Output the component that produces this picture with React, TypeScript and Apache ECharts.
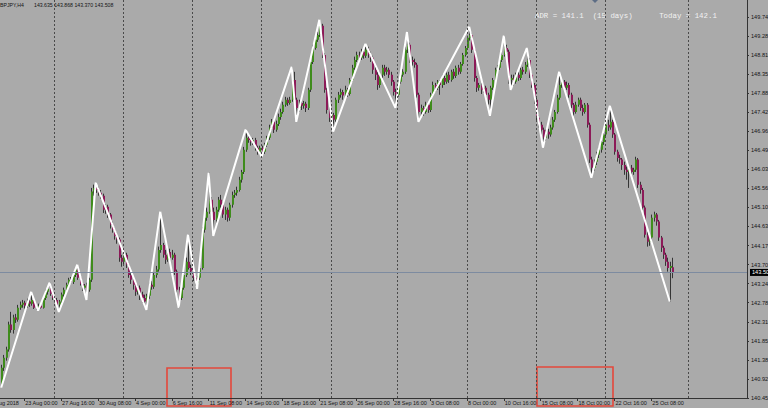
import React, { useEffect, useRef } from 'react';
import * as echarts from 'echarts';

// ---------- chart data ----------
const symbolInfo = 'GBPJPY,H4';
const lastQuote = ['143.635', '143.868', '143.370', '143.508'];
const bidPrice = 143.508;
const adrText = 'ADR = 141.1  (15 days)      Today = 142.1';
const firstDateLabel = '21 Aug 2018';

const xTickLabels = [
  '23 Aug 00:00', '27 Aug 16:00', '30 Aug 08:00', '4 Sep 00:00', '6 Sep 16:00', '11 Sep 08:00',
  '14 Sep 00:00', '18 Sep 16:00', '21 Sep 08:00', '26 Sep 00:00', '28 Sep 16:00', '3 Oct 08:00',
  '8 Oct 00:00', '10 Oct 16:00', '15 Oct 08:00', '18 Oct 00:00', '22 Oct 16:00', '25 Oct 08:00',
];
const yTickLabels = [
  '140.450', '140.920', '141.380', '141.850', '142.310', '142.780', '143.240', '143.700', '144.170',
  '144.630', '145.100', '145.560', '146.030', '146.490', '146.960', '147.420', '147.880', '148.350',
  '148.810', '149.280', '149.740',
];
// bars where the dotted vertical grid lines fall
const gridBars = [23, 53, 83, 113, 143, 172, 202, 232, 262, 298];

// H4 candles, [open, high, low, close]
const candles: number[][] = [
  [140.77,141.26,140.70,141.19],[141.19,141.50,141.11,141.43],[141.43,141.70,141.36,141.63],[141.63,142.31,141.58,142.24],
  [142.24,142.55,142.04,142.11],[142.11,142.48,142.02,142.41],[142.41,142.50,142.28,142.36],[142.36,142.72,142.31,142.65],
  [142.65,142.80,142.60,142.72],[142.72,142.84,142.65,142.77],[142.77,142.82,142.63,142.70],[142.70,142.87,142.65,142.80],
  [142.80,142.84,142.67,142.75],[142.75,143.04,142.70,142.84],[142.84,142.89,142.62,142.65],[142.65,142.70,142.60,142.63],
  [142.63,142.75,142.58,142.70],[142.70,142.75,142.63,142.65],[142.65,142.94,142.63,142.89],[142.89,143.09,142.84,143.04],
  [143.04,143.16,142.97,143.11],[143.11,143.26,142.94,142.99],[142.99,143.04,142.84,142.89],[142.89,142.94,142.77,142.84],
  [142.84,142.89,142.67,142.72],[142.72,142.84,142.55,142.80],[142.80,143.02,142.75,142.97],[142.97,143.14,142.92,143.09],
  [143.09,143.26,143.04,143.21],[143.21,143.38,143.16,143.33],[143.33,143.40,143.23,143.28],[143.28,143.50,143.23,143.45],
  [143.45,143.62,143.40,143.58],[143.58,143.70,143.33,143.38],[143.38,143.43,143.19,143.23],[143.23,143.28,143.06,143.14],
  [143.14,143.23,143.04,143.19],[143.19,143.26,142.84,143.09],[143.09,143.38,143.04,143.33],[143.33,145.57,143.28,145.48],
  [145.48,145.65,145.38,145.57],[145.57,145.70,145.45,145.52],[145.52,145.60,145.38,145.45],[145.45,145.52,145.31,145.38],
  [145.38,145.43,144.96,145.04],[145.04,145.18,144.94,145.11],[145.11,145.16,144.84,144.92],[144.92,144.96,144.58,144.67],
  [144.67,144.75,144.48,144.55],[144.55,144.60,144.31,144.40],[144.40,144.48,144.21,144.31],[144.31,144.36,143.77,143.87],
  [143.87,143.94,143.65,143.77],[143.77,144.01,143.70,143.94],[143.94,143.99,143.62,143.70],[143.70,143.75,143.38,143.45],
  [143.45,143.53,143.23,143.33],[143.33,143.38,143.09,143.21],[143.21,143.26,142.94,143.04],[143.04,143.21,142.97,143.14],
  [143.14,143.19,142.84,142.97],[142.97,143.04,142.77,142.89],[142.89,142.97,142.67,142.80],[142.80,142.99,142.60,142.94],
  [142.94,143.26,142.87,143.21],[143.21,143.30,143.09,143.16],[143.16,143.50,143.11,143.45],[143.45,143.67,143.38,143.58],
  [143.58,144.14,143.53,144.06],[144.06,144.99,143.99,144.18],[144.18,144.23,143.87,143.94],[143.94,144.06,143.72,143.82],
  [143.82,144.11,143.77,144.01],[144.01,144.09,143.80,143.87],[143.87,144.06,143.82,143.94],[143.94,143.99,143.45,143.53],
  [143.53,143.58,143.02,143.09],[143.09,143.16,142.65,142.89],[142.89,143.21,142.84,143.14],[143.14,143.53,143.09,143.45],
  [143.45,143.87,143.40,143.77],[143.77,144.43,143.58,143.62],[143.62,143.70,143.45,143.53],[143.53,143.58,143.30,143.38],
  [143.38,143.45,143.19,143.26],[143.26,143.43,143.11,143.38],[143.38,143.70,143.33,143.62],[143.62,144.62,143.58,144.55],
  [144.55,144.92,144.48,144.84],[144.84,145.09,144.77,144.99],[144.99,145.94,144.94,145.28],[145.28,145.35,144.92,144.99],
  [144.99,145.09,144.40,144.79],[144.79,145.11,144.72,145.04],[145.04,145.35,144.99,145.28],[145.28,145.40,145.09,145.16],
  [145.16,145.21,144.84,144.92],[144.92,145.11,144.79,145.04],[145.04,145.09,144.75,144.84],[144.84,145.21,144.77,145.16],
  [145.16,145.48,145.09,145.40],[145.40,145.52,145.33,145.45],[145.45,145.60,145.38,145.52],[145.52,145.84,145.48,145.77],
  [145.77,146.01,145.70,145.96],[145.96,146.57,145.91,146.50],[146.50,146.99,146.45,146.79],[146.79,146.87,146.67,146.74],
  [146.74,146.82,146.60,146.69],[146.69,146.79,146.62,146.74],[146.74,146.79,146.48,146.55],[146.55,146.60,146.38,146.45],
  [146.45,146.60,146.38,146.55],[146.55,146.60,146.33,146.45],[146.45,146.67,146.40,146.62],[146.62,146.84,146.57,146.79],
  [146.79,147.11,146.74,147.04],[147.04,147.25,146.99,147.18],[147.18,147.23,146.91,146.99],[146.99,147.21,146.94,147.13],
  [147.13,147.38,147.08,147.30],[147.30,147.50,147.23,147.42],[147.42,147.67,147.38,147.60],[147.60,147.79,147.55,147.72],
  [147.72,147.77,147.57,147.64],[147.64,147.79,147.60,147.72],[147.72,148.52,147.67,148.20],[148.20,148.40,147.64,147.72],
  [147.72,147.77,147.18,147.52],[147.52,147.72,147.42,147.64],[147.64,147.69,147.47,147.57],[147.57,147.69,147.50,147.62],
  [147.62,147.67,147.42,147.52],[147.52,148.01,147.47,147.96],[147.96,148.72,147.91,148.64],[148.64,149.06,148.59,148.98],
  [148.98,149.25,148.94,149.18],[149.18,149.37,149.13,149.30],[149.30,149.67,149.25,149.52],[149.52,149.57,148.74,148.81],
  [148.81,148.86,147.89,147.96],[147.96,148.01,147.38,147.47],[147.47,147.55,147.18,147.28],[147.28,147.42,147.21,147.35],
  [147.35,147.40,146.94,147.23],[147.23,147.77,147.18,147.72],[147.72,147.91,147.64,147.84],[147.84,147.99,147.77,147.91],
  [147.91,147.96,147.72,147.82],[147.82,148.06,147.74,147.96],[147.96,148.01,147.79,147.86],[147.86,148.25,147.82,148.20],
  [148.20,148.57,148.16,148.50],[148.50,148.77,148.45,148.69],[148.69,148.89,148.64,148.81],[148.81,148.89,148.67,148.74],
  [148.74,148.96,148.69,148.89],[148.89,148.94,148.72,148.79],[148.79,149.08,148.74,148.94],[148.94,149.01,148.74,148.81],
  [148.81,148.89,148.64,148.74],[148.74,148.79,148.35,148.45],[148.45,148.52,148.20,148.33],[148.33,148.40,147.96,148.08],
  [148.08,148.40,148.01,148.33],[148.33,148.57,148.25,148.50],[148.50,148.57,148.30,148.40],[148.40,148.52,148.33,148.45],
  [148.45,148.50,148.25,148.33],[148.33,148.40,148.06,148.16],[148.16,148.20,147.82,147.91],[147.91,147.99,147.52,147.84],
  [147.84,148.20,147.79,148.16],[148.16,148.40,148.11,148.33],[148.33,148.47,148.28,148.40],[148.40,149.01,148.35,148.94],
  [148.94,149.37,148.86,149.06],[149.06,149.11,148.62,148.69],[148.69,148.77,148.55,148.64],[148.64,148.72,148.50,148.57],
  [148.57,148.62,147.77,147.84],[147.84,147.89,147.18,147.42],[147.42,147.60,147.35,147.52],[147.52,147.57,147.33,147.42],
  [147.42,147.67,147.38,147.60],[147.60,147.64,147.40,147.47],[147.47,147.89,147.42,147.84],[147.84,148.16,147.79,148.08],
  [148.08,148.13,147.91,148.01],[148.01,148.20,147.96,148.16],[148.16,148.20,147.84,148.08],[148.08,148.33,148.01,148.25],
  [148.25,148.30,148.08,148.16],[148.16,148.38,148.11,148.33],[148.33,148.40,148.13,148.20],[148.20,148.45,148.16,148.40],
  [148.40,148.47,148.23,148.30],[148.30,148.55,148.25,148.50],[148.50,148.57,148.33,148.40],[148.40,148.64,148.35,148.59],
  [148.59,148.86,148.55,148.81],[148.81,149.03,148.77,148.98],[148.98,149.28,148.94,149.23],[149.23,149.50,149.16,149.30],
  [149.30,149.35,148.86,148.94],[148.94,148.98,148.16,148.25],[148.25,148.30,147.91,148.01],[148.01,148.13,147.94,148.08],
  [148.08,148.13,147.86,147.96],[147.96,148.06,147.89,148.01],[148.01,148.06,147.74,147.84],[147.84,147.89,147.60,147.72],
  [147.72,148.06,147.33,148.01],[148.01,148.25,147.96,148.20],[148.20,148.50,148.16,148.45],[148.45,148.57,148.38,148.50],
  [148.50,148.74,148.45,148.69],[148.69,148.89,148.64,148.81],[148.81,149.28,148.77,148.98],[148.98,149.06,148.81,148.89],
  [148.89,148.94,148.11,148.20],[148.20,148.33,147.96,148.25],[148.25,148.33,148.06,148.16],[148.16,148.38,148.11,148.33],
  [148.33,148.40,148.18,148.25],[148.25,148.50,148.20,148.45],[148.45,148.52,148.33,148.40],[148.40,148.64,148.35,148.57],
  [148.57,148.98,148.52,148.69],[148.69,148.74,148.25,148.33],[148.33,148.38,148.01,148.08],[148.08,148.13,147.62,147.72],
  [147.72,147.77,147.21,147.28],[147.28,147.35,147.04,147.11],[147.11,147.18,146.87,146.99],[146.99,147.04,146.55,146.79],
  [146.79,146.99,146.72,146.94],[146.94,147.01,146.77,146.87],[146.87,147.11,146.82,147.04],[147.04,147.30,146.99,147.23],
  [147.23,147.47,147.18,147.42],[147.42,147.84,147.38,147.77],[147.77,148.40,147.72,148.08],[148.08,148.23,148.01,148.16],
  [148.16,148.20,147.94,148.01],[148.01,148.16,147.96,148.08],[148.08,148.13,147.77,147.84],[147.84,147.89,147.52,147.60],
  [147.60,147.64,147.33,147.42],[147.42,147.67,147.38,147.60],[147.60,147.77,147.55,147.72],[147.72,147.77,147.45,147.52],
  [147.52,147.60,147.33,147.42],[147.42,147.64,147.38,147.60],[147.60,147.64,147.04,147.11],[147.11,147.16,146.18,146.26],
  [146.26,146.33,145.82,146.06],[146.06,146.26,145.99,146.21],[146.21,146.45,146.13,146.38],[146.38,146.57,146.30,146.50],
  [146.50,146.74,146.43,146.69],[146.69,146.91,146.62,146.87],[146.87,147.18,146.82,147.11],[147.11,147.23,146.96,147.04],
  [147.04,147.57,146.99,147.18],[147.18,147.23,146.79,146.87],[146.87,146.91,146.38,146.45],[146.45,146.50,146.21,146.30],
  [146.30,146.38,146.16,146.26],[146.26,146.30,146.01,146.13],[146.13,146.21,145.89,146.01],[146.01,146.09,145.77,145.96],
  [145.96,146.13,145.57,146.06],[146.06,146.13,145.87,145.96],[145.96,146.06,145.89,146.01],[146.01,146.33,145.96,146.26],
  [146.26,146.30,145.57,145.65],[145.65,145.72,145.43,145.52],[145.52,145.57,144.99,145.09],[145.09,145.14,144.36,144.43],
  [144.43,144.50,144.14,144.26],[144.26,144.40,144.16,144.36],[144.36,144.92,144.31,144.84],[144.84,144.99,144.75,144.92],
  [144.92,144.96,144.65,144.75],[144.75,144.79,144.28,144.36],[144.36,144.40,144.01,144.11],[144.11,144.16,143.84,143.94],
  [143.94,143.99,143.67,143.77],[143.77,143.87,143.53,143.62],[143.62,143.77,142.80,143.67],[143.635,143.868,143.370,143.508],
];

// ZigZag indicator pivots, [bar index, price]
const zigzag: number[][] = [
  [0,140.70],[13,143.04],[16,142.58],[21,143.26],[25,142.55],[33,143.70],[37,142.84],[41,145.70],
  [63,142.60],[69,144.99],[77,142.65],[81,144.43],[85,143.11],[90,145.94],[92,144.40],[106,146.99],
  [113,146.33],[126,148.52],[128,147.18],[138,149.67],[144,146.94],[158,149.08],[171,147.52],[176,149.37],
  [181,147.18],[203,149.50],[212,147.33],[218,149.28],[221,147.96],[228,148.98],[235,146.55],[242,148.40],
  [256,145.82],[264,147.57],[290,142.80],
];

// ---------- axis layout ----------
const BAR_SLOTS = 324;        // visible bar slots incl. right-side chart shift
const FIRST_LABEL_BAR = 10;   // bar of '23 Aug 00:00'
const LABEL_STEP = 16;        // bars between time labels
const Y_MIN = 140.45;
const Y_MAX = 150.15;
const Y_STEP = 0.4645;

const BG = '#aaaaaa';
const BULL = '#3f8c1c';
const BEAR = '#8c1a58';
const WICK = '#353535';
const AXIS = '#333333';
const TXT = '#151515';
const FONT = 'Liberation Sans, Arial, sans-serif';

export default function App() {
  const ref = useRef<HTMLDivElement>(null);

  useEffect(() => {
    if (!ref.current) return;
    const chart = echarts.init(ref.current, undefined, { renderer: 'svg' });

    const categories = Array.from({ length: BAR_SLOTS }, (_, i) => String(i));
    const labelAt = (idx: number): string | null => {
      const k = (idx - FIRST_LABEL_BAR) / LABEL_STEP;
      return Number.isInteger(k) && k >= 0 && k < xTickLabels.length ? xTickLabels[k] : null;
    };
    const candleData = candles.map((c, i) => [i, c[0], c[1], c[2], c[3]]);

    chart.setOption({
      animation: false,
      backgroundColor: BG,
      grid: { left: 0, right: 21, top: 0, bottom: 10, containLabel: false, outerBoundsMode: 'none' },
      xAxis: {
        type: 'category',
        data: categories,
        boundaryGap: true,
        axisLine: { show: true, lineStyle: { color: AXIS, width: 1 } },
        axisTick: {
          show: true,
          alignWithLabel: true,
          length: 3,
          interval: (i: number) => labelAt(i) !== null,
          lineStyle: { color: AXIS },
        },
        axisLabel: {
          show: true,
          interval: (i: number) => labelAt(i) !== null,
          formatter: (_v: string, i: number) => labelAt(i) ?? '',
          align: 'left',
          fontSize: 5.5,
          fontFamily: FONT,
          color: TXT,
          margin: 2,
          padding: [0, 0, 0, 1],
        },
        splitLine: { show: false },
      },
      yAxis: {
        type: 'value',
        position: 'right',
        min: Y_MIN,
        max: Y_MAX,
        interval: Y_STEP,
        axisLine: { show: true, lineStyle: { color: AXIS, width: 1 } },
        axisTick: { show: true, length: 2, lineStyle: { color: AXIS } },
        axisLabel: {
          fontSize: 5.6,
          fontFamily: FONT,
          color: TXT,
          margin: 4,
          showMaxLabel: false,
          formatter: (v: number) => {
            const k = Math.round((v - Y_MIN) / Y_STEP);
            if (Math.abs(v - (Y_MIN + k * Y_STEP)) > 0.01) return '';
            return yTickLabels[k] ?? '';
          },
        },
        splitLine: { show: false },
      },
      series: [
        {
          name: 'guides',
          type: 'line',
          data: [],
          z: 1,
          silent: true,
          markLine: {
            silent: true,
            symbol: ['none', 'none'],
            animation: false,
            label: { show: false },
            lineStyle: { color: '#4a4a4a', width: 1, type: [2, 2] },
            data: gridBars.map((b) => ({ xAxis: b })),
          },
        },
        {
          name: 'candles',
          type: 'custom',
          z: 2,
          clip: true,
          data: candleData,
          encode: { x: 0, y: [1, 2, 3, 4] },
          renderItem: (_params: any, api: any) => {
            const idx = api.value(0);
            const o = api.value(1);
            const h = api.value(2);
            const l = api.value(3);
            const c = api.value(4);
            const po = api.coord([idx, o]);
            const pc = api.coord([idx, c]);
            const ph = api.coord([idx, h]);
            const pl = api.coord([idx, l]);
            const px = Math.round(po[0]);
            const top = Math.min(po[1], pc[1]);
            const bottom = Math.max(po[1], pc[1]);
            return {
              type: 'group',
              children: [
                {
                  type: 'line',
                  shape: { x1: px + 0.5, y1: ph[1], x2: px + 0.5, y2: pl[1] },
                  style: { stroke: WICK, lineWidth: 1 },
                },
                {
                  type: 'rect',
                  shape: { x: px, y: top, width: 2, height: Math.max(1, bottom - top) },
                  style: { fill: c >= o ? BULL : BEAR },
                },
              ],
            };
          },
        },
        {
          name: 'zigzag',
          type: 'line',
          z: 3,
          data: zigzag,
          symbol: 'none',
          lineStyle: { color: '#ffffff', width: 2 },
          silent: true,
        },
        {
          name: 'bid',
          type: 'line',
          data: [],
          z: 4,
          silent: true,
          markLine: {
            silent: true,
            symbol: ['none', 'none'],
            animation: false,
            lineStyle: { color: '#7d8ba0', width: 1, type: 'solid' },
            label: {
              show: true,
              position: 'end',
              distance: 3,
              formatter: () => bidPrice.toFixed(3),
              backgroundColor: '#000000',
              color: '#ffffff',
              fontSize: 5.6,
              fontFamily: FONT,
              padding: [1, 2, 0, 2],
            },
            data: [{ yAxis: bidPrice }],
          },
        },
      ],
      graphic: [
        {
          type: 'text',
          left: -4,
          top: 2,
          silent: true,
          style: { text: symbolInfo, fill: TXT, font: `5.2px ${FONT}` },
        },
        {
          type: 'text',
          left: 34,
          top: 2,
          silent: true,
          style: { text: lastQuote.join(' '), fill: TXT, font: `5.2px ${FONT}` },
        },
        {
          type: 'text',
          left: 535,
          top: 12,
          silent: true,
          style: { text: adrText, fill: '#f2f2f2', font: `7.4px 'Liberation Mono', 'DejaVu Sans Mono', monospace` },
        },
        {
          type: 'text',
          left: -12,
          top: 400,
          silent: true,
          style: { text: firstDateLabel, fill: TXT, font: `5.5px ${FONT}` },
        },
        {
          type: 'polygon',
          silent: true,
          shape: { points: [[592, 0], [598, 0], [595, 3]] },
          style: { fill: '#5d6d85' },
        },
        {
          type: 'rect',
          silent: true,
          shape: { x: 167, y: 368, width: 64, height: 38 },
          style: { fill: 'none', stroke: '#e4483b', lineWidth: 1.6 },
        },
        {
          type: 'rect',
          silent: true,
          shape: { x: 537, y: 367, width: 76, height: 39 },
          style: { fill: 'none', stroke: '#e4483b', lineWidth: 1.6 },
        },
      ],
    });

    return () => {
      chart.dispose();
    };
  }, []);

  return (
    <div
      ref={ref}
      style={{ position: 'fixed', left: 0, top: 0, width: 768, height: 408 }}
    />
  );
}
